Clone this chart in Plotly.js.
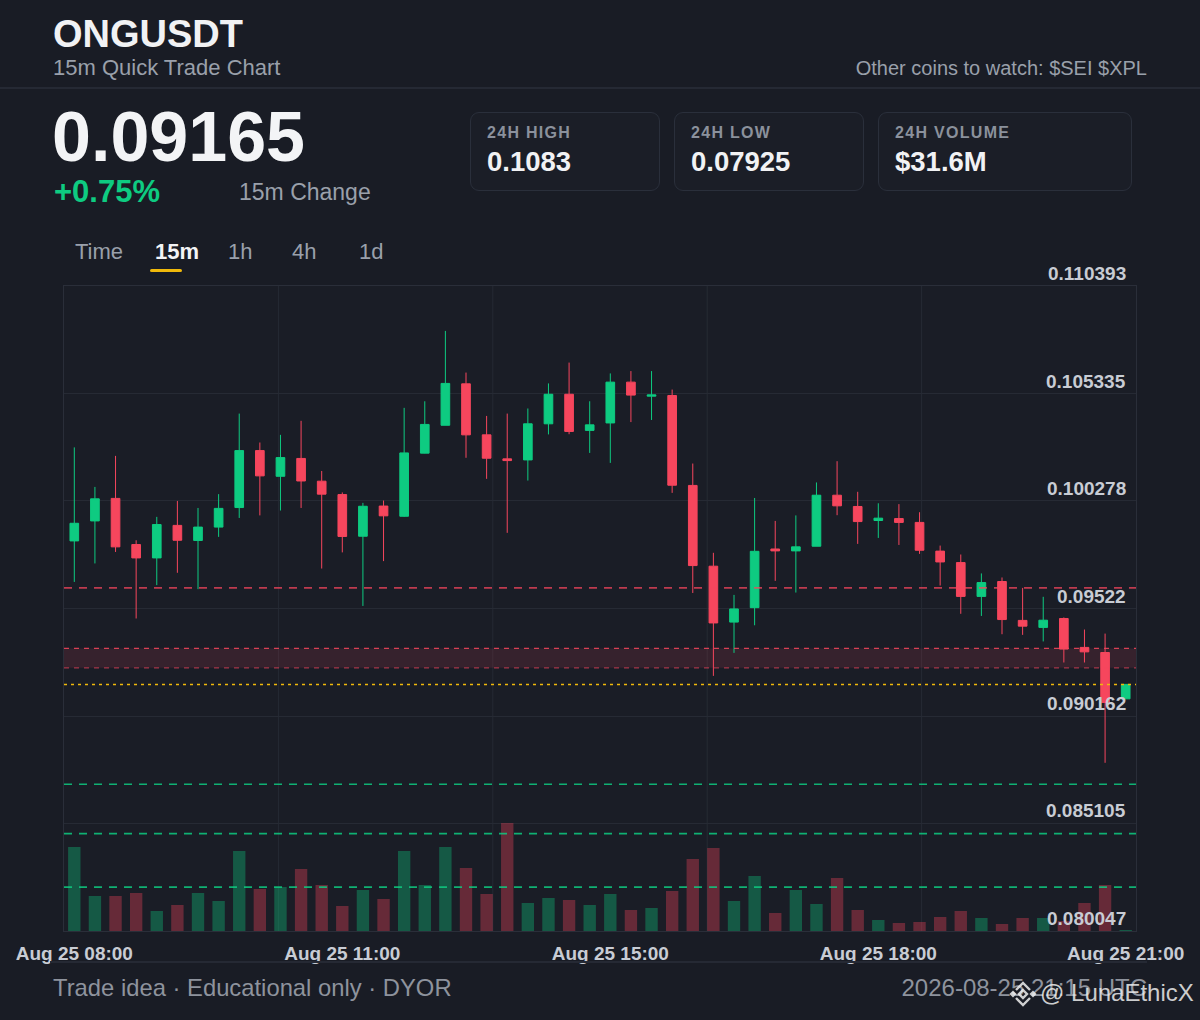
<!DOCTYPE html>
<html><head><meta charset="utf-8">
<script src="https://cdn.plot.ly/plotly-3.0.1.min.js"></script>
<style>
html,body{margin:0;padding:0;background:#191c25;width:1200px;height:1020px;overflow:hidden;font-family:"Liberation Sans",Arial,sans-serif;}
#chart{position:absolute;left:0;top:0;width:1200px;height:1020px;}
.t{position:absolute;white-space:nowrap;line-height:1;}
.box{position:absolute;top:112px;height:79px;border:1.5px solid #2a2f3b;border-radius:9px;background:#1b1e27;box-sizing:border-box;}
.lab{position:absolute;left:16px;top:12px;font-size:16px;font-weight:bold;letter-spacing:1.3px;color:#8b919c;white-space:nowrap;line-height:1;}
.val{position:absolute;left:16px;top:35px;font-size:27.5px;font-weight:bold;color:#f1f2f4;white-space:nowrap;line-height:1;}
</style></head>
<body>
<div id="chart"></div>

<div class="t" style="left:53px;top:15px;font-size:38px;font-weight:bold;color:#f1f2f4;">ONGUSDT</div>
<div class="t" style="left:53px;top:57px;font-size:22px;color:#9aa0ab;">15m Quick Trade Chart</div>
<div class="t" style="right:53px;top:58px;font-size:20px;color:#9aa0ab;">Other coins to watch: $SEI $XPL</div>
<div style="position:absolute;left:0;top:87px;width:1200px;height:2px;background:#252934;"></div>

<div class="t" style="left:52px;top:102px;font-size:70px;font-weight:bold;color:#f3f4f6;">0.09165</div>
<div class="t" style="left:54px;top:176px;font-size:31px;font-weight:bold;color:#0ecb81;">+0.75%</div>
<div class="t" style="left:239px;top:181px;font-size:23px;color:#9aa0ab;">15m Change</div>

<div class="box" style="left:470px;width:190px;"><div class="lab">24H HIGH</div><div class="val">0.1083</div></div>
<div class="box" style="left:674px;width:190px;"><div class="lab">24H LOW</div><div class="val">0.07925</div></div>
<div class="box" style="left:878px;width:254px;"><div class="lab">24H VOLUME</div><div class="val">$31.6M</div></div>

<div class="t" style="left:75px;top:241px;font-size:22px;color:#9aa0ab;">Time</div>
<div class="t" style="left:155px;top:241px;font-size:22px;font-weight:bold;color:#f3f4f6;">15m</div>
<div class="t" style="left:228px;top:241px;font-size:22px;color:#9aa0ab;">1h</div>
<div class="t" style="left:292px;top:241px;font-size:22px;color:#9aa0ab;">4h</div>
<div class="t" style="left:359px;top:241px;font-size:22px;color:#9aa0ab;">1d</div>
<div style="position:absolute;left:150px;top:269px;width:32px;height:3px;border-radius:2px;background:#f0b90b;"></div>

<div style="position:absolute;left:50px;top:961px;width:1097px;height:2px;background:#252934;"></div>
<div class="t" style="left:53px;top:976px;font-size:23.8px;color:#8e939d;">Trade idea · Educational only · DYOR</div>
<div class="t" style="right:53px;top:976px;font-size:24px;color:#8e939d;">2026-08-25 21:15 UTC</div>
<svg style="position:absolute;left:1008px;top:979px;" width="30" height="30" viewBox="0 0 30 30">
  <g fill="none" stroke="rgba(240,240,240,0.85)" stroke-width="2.4">
    <path d="M8 11 L15 4 L22 11"/>
    <path d="M8 19 L15 26 L22 19"/>
    <path d="M15 11 L19 15 L15 19 L11 15 Z"/>
  </g>
  <g fill="rgba(240,240,240,0.85)">
    <rect x="2.5" y="12.5" width="5" height="5" transform="rotate(45 5 15)"/>
    <rect x="22.5" y="12.5" width="5" height="5" transform="rotate(45 25 15)"/>
  </g>
</svg>
<div class="t" style="left:1040px;top:981px;font-size:24px;color:rgba(238,238,238,0.85);">@ LunaEthicX</div>

<script>
// ---- data ----
var candleIdx = [];
for (var i = 0; i < 52; i++) candleIdx.push(i);
var tickIdx = [0, 13, 26, 39, 51];
var tickText = ["Aug 25 08:00", "Aug 25 11:00", "Aug 25 15:00", "Aug 25 18:00", "Aug 25 21:00"];

var opens = [0.09840,0.09934,0.10040,0.09823,0.09760,0.09913,0.09842,0.09905,0.09997,0.10265,
             0.10144,0.10228,0.10121,0.10058,0.09862,0.10004,0.09956,0.10253,0.10384,0.10579,
             0.10339,0.10226,0.10221,0.10391,0.10530,0.10360,0.10395,0.10587,0.10521,0.10524,
             0.10101,0.09721,0.09458,0.09526,0.09802,0.09793,0.09815,0.10055,0.10002,0.09936,
             0.09945,0.09927,0.09792,0.09738,0.09579,0.09649,0.09466,0.09433,0.09475,0.09339,
             0.09315,0.09097];
var highs = [0.10280,0.10094,0.10240,0.09843,0.09953,0.10028,0.09995,0.10060,0.10439,0.10303,
             0.10339,0.10405,0.10169,0.10068,0.10019,0.10030,0.10466,0.10497,0.10828,0.10632,
             0.10428,0.10439,0.10463,0.10581,0.10679,0.10497,0.10628,0.10639,0.10639,0.10552,
             0.10204,0.09784,0.09586,0.10042,0.09934,0.09960,0.10115,0.10215,0.10071,0.10017,
             0.10013,0.09975,0.09818,0.09776,0.09687,0.09668,0.09619,0.09577,0.09480,0.09423,
             0.09404,0.09165];
var lows  = [0.09647,0.09734,0.09788,0.09475,0.09632,0.09690,0.09613,0.09859,0.09948,0.09960,
             0.09983,0.09995,0.09710,0.09786,0.09534,0.09745,0.09953,0.10252,0.10384,0.10231,
             0.10132,0.09878,0.10124,0.10341,0.10342,0.10254,0.10207,0.10399,0.10409,0.10066,
             0.09595,0.09205,0.09313,0.09443,0.09652,0.09597,0.09815,0.09961,0.09826,0.09854,
             0.09821,0.09779,0.09630,0.09497,0.09487,0.09401,0.09398,0.09367,0.09268,0.09268,
             0.08796,0.09097];
var closes = [0.09923,0.10038,0.09812,0.09760,0.09917,0.09843,0.09905,0.09993,0.10265,0.10146,
              0.10232,0.10122,0.10060,0.09861,0.10003,0.09958,0.10254,0.10388,0.10581,0.10339,
              0.10229,0.10218,0.10391,0.10530,0.10355,0.10386,0.10587,0.10526,0.10527,0.10102,
              0.09724,0.09454,0.09520,0.09791,0.09793,0.09812,0.10055,0.10005,0.09931,0.09947,
              0.09927,0.09796,0.09741,0.09579,0.09644,0.09470,0.09439,0.09467,0.09331,0.09318,
              0.09080,0.09165];
var volumes = [840,350,350,380,200,260,380,300,800,420,
               440,620,460,250,410,320,800,460,840,630,
               370,1080,280,330,310,260,370,210,230,400,
               720,830,300,550,180,410,270,530,210,110,
               80,90,140,200,130,70,130,130,100,280,
               460,10];

var priceTicks = [0.110393, 0.105335, 0.100278, 0.09522, 0.090162, 0.085105, 0.080047];
var priceTickText = ["0.110393", "0.105335", "0.100278", "0.09522", "0.090162", "0.085105", "0.080047"];

var resistanceLevel = 0.09619;
var zoneLevels = [0.09334, 0.09243];
var lastPrice = 0.09165;
var supportLevels = [0.08695, 0.08463, 0.08211];

// ---- styling ----
var UP = '#0ecb81', DOWN = '#f6465d';
var FONT = '"Liberation Sans", Arial, sans-serif';
var volColors = closes.map(function (c, i) {
  return c >= opens[i] ? 'rgba(14,203,129,0.35)' : 'rgba(246,70,93,0.35)';
});

var traces = [
  {
    type: 'bar', x: candleIdx, y: volumes, yaxis: 'y2', xaxis: 'x',
    width: 0.6, marker: { color: volColors, line: { width: 0 } },
    hoverinfo: 'skip', showlegend: false
  },
  {
    type: 'candlestick', x: candleIdx, open: opens, high: highs, low: lows, close: closes,
    xaxis: 'x', yaxis: 'y', whiskerwidth: 0,
    increasing: { line: { color: UP, width: 1 }, fillcolor: UP },
    decreasing: { line: { color: DOWN, width: 1 }, fillcolor: DOWN },
    showlegend: false, hoverinfo: 'skip'
  }
];

function hline(y, color, dash, width, layer) {
  return { type: 'line', xref: 'paper', x0: 0, x1: 1, yref: 'y', y0: y, y1: y,
           line: { color: color, width: width, dash: dash }, layer: layer || 'above' };
}

var shapes = [];
[0.2, 0.4, 0.6, 0.8].forEach(function (px) {
  shapes.push({ type: 'line', xref: 'paper', yref: 'paper', x0: px, x1: px, y0: 0, y1: 1,
                line: { color: '#262a34', width: 1 }, layer: 'below' });
});
shapes.push({ type: 'rect', xref: 'paper', x0: 0, x1: 1, yref: 'y', y0: zoneLevels[1], y1: zoneLevels[0],
              fillcolor: 'rgba(246,70,93,0.13)', line: { width: 0 }, layer: 'below' });
shapes.push(hline(zoneLevels[0], 'rgba(246,70,93,0.85)', '5px,5px', 1.2));
shapes.push(hline(zoneLevels[1], 'rgba(246,70,93,0.6)', '5px,5px', 1.2));
shapes.push(hline(resistanceLevel, 'rgba(246,70,93,0.75)', '8px,7px', 1.6));
shapes.push(hline(lastPrice, '#f0b90b', '3px,4px', 1.5));
supportLevels.forEach(function (lv) {
  shapes.push(hline(lv, 'rgba(14,203,129,0.85)', '8px,7px', 1.6));
});

var annotations = priceTicks.map(function (v, i) {
  return { xref: 'paper', x: 1, xanchor: 'right', xshift: -8, yref: 'y', y: v, yanchor: 'bottom',
           text: priceTickText[i], showarrow: false,
           font: { family: FONT, size: 19, color: '#c8ccd4', weight: 'bold' } };
});

var layout = {
  width: 1200, height: 1020,
  margin: { l: 64, r: 64, t: 286, b: 89, pad: 0 },
  paper_bgcolor: 'rgba(0,0,0,0)', plot_bgcolor: '#1a1d26',
  showlegend: false, boxgap: 0.4, bargap: 0.4,
  font: { family: FONT, color: '#c8ccd4' },
  xaxis: {
    range: [-0.5, 51.5], tickmode: 'array', tickvals: tickIdx, ticktext: tickText,
    tickfont: { family: FONT, size: 19, color: '#c8ccd4', weight: 'bold' },
    showgrid: false, zeroline: false, showline: true, mirror: true, linecolor: '#2a2e39', linewidth: 1,
    ticks: '', ticklabelstandoff: 5, rangeslider: { visible: false }, fixedrange: true
  },
  yaxis: {
    range: [priceTicks[6], priceTicks[0]], tickmode: 'array', tickvals: priceTicks,
    showticklabels: false, gridcolor: '#262a34', gridwidth: 1, zeroline: false,
    showline: true, mirror: true, linecolor: '#2a2e39', linewidth: 1, fixedrange: true
  },
  yaxis2: { overlaying: 'y', range: [0, 6450], visible: false, showgrid: false, fixedrange: true },
  shapes: shapes,
  annotations: annotations
};

Plotly.newPlot('chart', traces, layout, { staticPlot: true, displayModeBar: false });
</script>
</body></html>
